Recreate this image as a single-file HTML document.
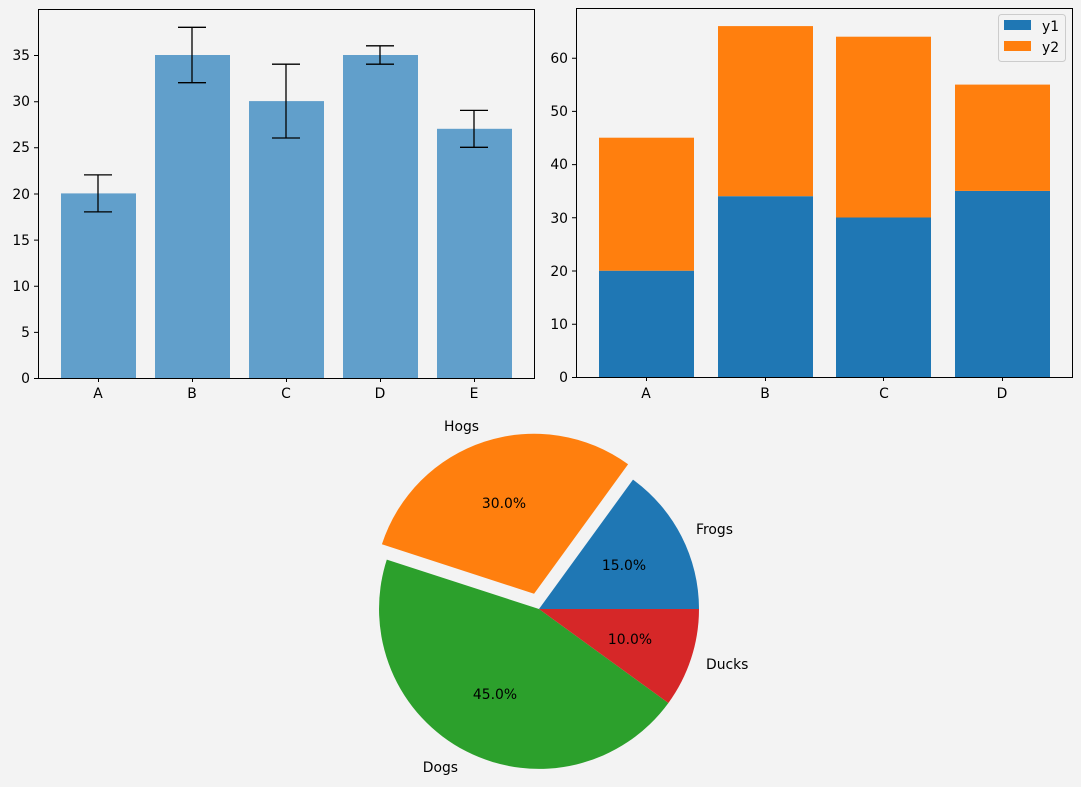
<!DOCTYPE html>
<html><head><meta charset="utf-8"><style>
html,body{margin:0;padding:0;background:#f3f3f3;}
svg{display:block;font-family:"DejaVu Sans","Liberation Sans",sans-serif;font-size:13.9px;}
</style></head><body>
<svg width="1081" height="787" viewBox="0 0 1081 787" xmlns="http://www.w3.org/2000/svg">
<rect width="1081" height="787" fill="#f3f3f3"/>
<!-- Left chart -->
<g>
<g fill="#619fcb">
<rect x="61" y="193.4" width="75" height="184.6"/>
<rect x="155" y="55" width="75" height="323"/>
<rect x="249" y="101.1" width="75" height="276.9"/>
<rect x="343" y="55" width="75" height="323"/>
<rect x="437" y="128.8" width="75" height="249.2"/>
</g>
<g stroke="#000" stroke-width="1.3" fill="none">
<path d="M98 211.9V174.9M84 211.9H112M84 174.9H112"/>
<path d="M192 82.7V27.3M178 82.7H206M178 27.3H206"/>
<path d="M286 138V64.2M272 138H300M272 64.2H300"/>
<path d="M380 64.2V45.8M366 64.2H394M366 45.8H394"/>
<path d="M474 147.3V110.4M460 147.3H488M460 110.4H488"/>
</g>
<rect x="38.5" y="9.5" width="496" height="369" fill="none" stroke="#000" stroke-width="1"/>
<g stroke="#000">
<path d="M38 378.5h-4M38 332.4h-4M38 286.3h-4M38 240.1h-4M38 194h-4M38 147.8h-4M38 101.7h-4M38 55.5h-4"/>
<path d="M98.5 378v4M192.5 378v4M286.5 378v4M380.5 378v4M474.5 378v4"/>
</g>
<g text-anchor="end" fill="#000">
<text x="30" y="383">0</text><text x="30" y="337">5</text><text x="30" y="291">10</text><text x="30" y="245">15</text>
<text x="30" y="199">20</text><text x="30" y="152">25</text><text x="30" y="106">30</text><text x="30" y="60">35</text>
</g>
<g text-anchor="middle" fill="#000">
<text x="98" y="398">A</text><text x="192" y="398">B</text><text x="286" y="398">C</text><text x="380" y="398">D</text><text x="474" y="398">E</text>
</g>
</g>
<!-- Right chart -->
<g>
<g fill="#1f77b4">
<rect x="599" y="270.7" width="95" height="106.3"/>
<rect x="718" y="196.2" width="95" height="180.8"/>
<rect x="836" y="217.5" width="95" height="159.5"/>
<rect x="955" y="190.9" width="95" height="186.1"/>
</g>
<g fill="#ff7f0e">
<rect x="599" y="137.7" width="95" height="133"/>
<rect x="718" y="26.1" width="95" height="170.1"/>
<rect x="836" y="36.7" width="95" height="180.8"/>
<rect x="955" y="84.6" width="95" height="106.3"/>
</g>
<rect x="576.5" y="8.5" width="496" height="369" fill="none" stroke="#000"/>
<g stroke="#000">
<path d="M576 377.5h-4M576 324.3h-4M576 271h-4M576 217.8h-4M576 164.6h-4M576 111.4h-4M576 58.2h-4"/>
<path d="M646.5 377v4M765.5 377v4M883.5 377v4M1002.5 377v4"/>
</g>
<g text-anchor="end" fill="#000">
<text x="568" y="382">0</text><text x="568" y="329">10</text><text x="568" y="276">20</text><text x="568" y="223">30</text>
<text x="568" y="169">40</text><text x="568" y="116">50</text><text x="568" y="63">60</text>
</g>
<g text-anchor="middle" fill="#000">
<text x="646" y="398">A</text><text x="765" y="398">B</text><text x="884" y="398">C</text><text x="1002" y="398">D</text>
</g>
<rect x="998.5" y="14.5" width="67" height="47" rx="3" fill="#f3f3f3" stroke="#ccc"/>
<rect x="1004" y="20" width="27" height="10" fill="#1f77b4"/>
<rect x="1004" y="41" width="27" height="10" fill="#ff7f0e"/>
<text x="1042" y="31" fill="#000">y1</text>
<text x="1042" y="52" fill="#000">y2</text>
</g>
<!-- Pie -->
<g>
<path d="M539 609L699 609A160 160 0 0 0 633.0 479.6Z" fill="#1f77b4"/>
<path d="M534.06 593.78L628.1 464.3A160 160 0 0 0 381.9 544.3Z" fill="#ff7f0e"/>
<path d="M539 609L386.8 559.6A160 160 0 0 0 668.4 703.0Z" fill="#2ca02c"/>
<path d="M539 609L668.4 703.0A160 160 0 0 0 699 609Z" fill="#d62728"/>
<g fill="#000">
<text x="696" y="534">Frogs</text>
<text x="479" y="431" text-anchor="end">Hogs</text>
<text x="458" y="772" text-anchor="end">Dogs</text>
<text x="706" y="669">Ducks</text>
<g text-anchor="middle">
<text x="624" y="570">15.0%</text>
<text x="504" y="508">30.0%</text>
<text x="495" y="699">45.0%</text>
<text x="630" y="644">10.0%</text>
</g>
</g>
</g>
</svg>
</body></html>
